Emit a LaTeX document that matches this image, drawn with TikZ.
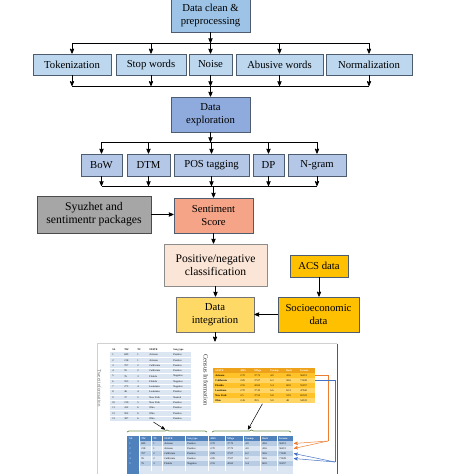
\documentclass[tikz,border=0pt]{standalone}
\usepackage{fontspec}
\setmainfont{Liberation Serif}
\usetikzlibrary{arrows,positioning,decorations.pathreplacing}

\definecolor{cleanblue}{HTML}{9DC3E6}
\definecolor{prepblue}{HTML}{BDD7EE}
\definecolor{explblue}{HTML}{8FAADC}
\definecolor{featblue}{HTML}{B4C7E7}
\definecolor{syugray}{HTML}{A6A6A6}
\definecolor{salmon}{HTML}{F5A487}
\definecolor{peach}{HTML}{FBE5D6}
\definecolor{acsgold}{HTML}{FFC000}
\definecolor{integgold}{HTML}{FFD966}
\definecolor{boxline}{HTML}{4E5C70}
\definecolor{tabblue}{HTML}{DCE6F2}
\definecolor{hdrblue}{HTML}{4F81BD}
\definecolor{rowblue}{HTML}{B8CCE4}
\definecolor{orhead}{HTML}{EDA21A}
\definecolor{orrow}{HTML}{FFC329}
\definecolor{orlight}{HTML}{FFD666}
\definecolor{bracegreen}{HTML}{6E9150}
\definecolor{linkorange}{HTML}{ED7D31}
\definecolor{linkblue}{HTML}{4472C4}

\begin{document}
\begin{tikzpicture}[x=1pt,y=-1pt,>=stealth',line width=0.8pt]
            \tikzstyle{box}=[rectangle,draw=boxline,inner sep=0pt,align=center,font=\fontsize{10.7}{13}\selectfont]
            \tikzstyle{prep}=[box,fill=prepblue,minimum height=21pt]
            \tikzstyle{feat}=[box,fill=featblue,minimum height=22pt]
            \tikzstyle{cell}=[inner sep=0pt,anchor=west,font=\fontsize{2.6}{3}\selectfont]
            \tikzstyle{hcell}=[cell,font=\fontsize{2.6}{3}\selectfont\bfseries]
            \tikzstyle{thin}=[line width=0.5pt]

            \useasboundingbox (0,0) rectangle (474,474);

            \node [box,fill=cleanblue,minimum width=79pt,minimum height=33pt] (clean) at (210.5,15.5) {Data clean \&\\preprocessing};

            \node [prep,minimum width=78pt] (tok) at (72,64.5) {Tokenization};
            \node [prep,minimum width=70pt] (stopw) at (151,64.5) {Stop words};
            \node [prep,minimum width=43pt] (noise) at (210.5,64.5) {Noise};
            \node [prep,minimum width=87pt] (abuse) at (279.5,64.5) {Abusive words};
            \node [prep,minimum width=86pt] (norm) at (369,64.5) {Normalization};

            \coordinate (busa) at (210.5,43);
            \coordinate (busb) at (210.5,86);
            \draw [->] (clean) -- (busa);
            \draw (tok |- busa) -- (norm |- busa);
            \foreach \n in {tok,stopw,noise,abuse,norm}
                \draw [->] (\n |- busa) -- (\n);
            \foreach \n in {tok,stopw,noise,abuse,norm}
                \draw [->] (\n) -- (\n |- busb);
            \draw (tok |- busb) -- (norm |- busb);

            \node [box,fill=explblue,minimum width=79pt,minimum height=35pt] (explore) at (210.5,114.5) {Data\\exploration};
            \draw [->] (busb) -- (explore);

            \node [feat,minimum width=41pt] (bow) at (101.5,165) {BoW};
            \node [feat,minimum width=43pt] (dtm) at (148.5,165) {DTM};
            \node [feat,minimum width=75pt] (pos) at (211.5,165) {POS tagging};
            \node [feat,minimum width=31pt] (dp) at (268.5,165) {DP};
            \node [feat,minimum width=58pt] (ngram) at (317,165) {N-gram};

            \coordinate (busc) at (210.5,142);
            \coordinate (busd) at (213.5,186);
            \draw [->] (explore) -- (busc);
            \draw (bow |- busc) -- (ngram |- busc);
            \foreach \n in {bow,dtm,pos,dp,ngram}
                \draw [->] (\n |- busc) -- (\n);
            \foreach \n in {bow,dtm,pos,dp,ngram}
                \draw [->] (\n) -- (\n |- busd);
            \draw (bow |- busd) -- (ngram |- busd);

            \node [box,fill=syugray,draw=black!70,minimum width=114pt,minimum height=37pt,font=\fontsize{11.7}{13.3}\selectfont] (syu) at (94,214.5) {Syuzhet and\\sentimentr packages};
            \node [box,fill=salmon,minimum width=79pt,minimum height=35pt] (senti) at (213.5,215.5) {Sentiment\\Score};
            \draw [->] (busd) -- (senti);
            \draw [->] (syu.east) -- (syu.east -| senti.west);

            \node [box,fill=peach,draw=black!45,minimum width=103pt,minimum height=42pt,font=\fontsize{11.6}{13}\selectfont] (posneg) at (215.5,265) {Positive/negative\\classification};
            \draw [->] (senti.south) -- (senti.south |- posneg.north);

            \node [box,fill=acsgold,minimum width=58pt,minimum height=22pt] (acs) at (319,266) {ACS data};
            \node [box,fill=acsgold,minimum width=81pt,minimum height=35pt] (socio) at (318.5,314.5) {Socioeconomic\\data};
            \node [box,fill=integgold,draw=black!55,minimum width=78pt,minimum height=35pt] (integ) at (215,314.5) {Data\\integration};
            \draw [->] (posneg.south) -- (posneg.south |- integ.north);
            \draw [->] (acs) -- (acs |- socio.north);
            \draw [->] (socio) -- (integ);

            \coordinate (inset) at (215,341.5);
            \draw [->] (integ) -- (inset);

            % inset: tweet table, census table and merged table
            \draw [thin,black!18] (97,474) -- (97,343.5) -- (337,343.5);
            \draw [black!65] (337,343.5) -- (337,474);
            \node [rotate=-90,font=\fontsize{5}{6}\selectfont,text=black!55] (tweetlab) at (99.5,388) {Tweet information};
            \node [rotate=-90,font=\fontsize{6.5}{7}\selectfont,text=black!80] (censuslab) at (206,380) {Census Information};

            \node [inner sep=0pt,minimum width=81pt,minimum height=74.2pt,anchor=north west] (tweettab) at (110,347) {};
            \fill [tabblue] (110,352.3) rectangle (191,421.2);
            \foreach \i in {1,...,12}
                \draw [white,line width=0.4pt] (110,352.3+5.3*\i) -- (191,352.3+5.3*\i);
            \node [hcell] (lt-0-1) at (112,349.65) {SL};
            \node [hcell] (lt-0-2) at (124,349.65) {TW};
            \node [hcell] (lt-0-3) at (137,349.65) {TC};
            \node [hcell] (lt-0-4) at (149,349.65) {STATE};
            \node [hcell] (lt-0-5) at (173,349.65) {Sen\_type};
            \foreach \sl/\tw/\tc/\st/\se [count=\i] in {1/849/1/Arizona/Positive,2/218/1/Arizona/Positive,3/707/2/California/Positive,4/95/2/California/Positive,5/76/3/Florida/Negative,6/593/3/Florida/Negative,7/273/4/Louisiana/Negative,8/46/4/Louisiana/Positive,9/37/5/New York/Neutral,10/210/5/New York/Positive,11/412/6/Ohio/Positive,12/502/6/Ohio/Positive,13/387/6/Ohio/Positive}{
                \node [cell] (lt-\i-1) at (112,349.65+5.3*\i) {\sl};
                \node [cell] (lt-\i-2) at (124,349.65+5.3*\i) {\tw};
                \node [cell] (lt-\i-3) at (137,349.65+5.3*\i) {\tc};
                \node [cell] (lt-\i-4) at (149,349.65+5.3*\i) {\st};
                \node [cell] (lt-\i-5) at (173,349.65+5.3*\i) {\se};
            }

            \node [inner sep=0pt,minimum width=102pt,minimum height=35pt,anchor=north west] (censtab) at (213,368) {};
            \fill [orhead] (213,368) rectangle (315,373);
            \fill [orrow] (213,373) rectangle (315,403);
            \foreach \i in {2,4,6}
                \fill [orlight] (213,368+5*\i) rectangle (315,373+5*\i);
            \foreach \h/\x [count=\j] in {STATE/215,AHS/240,MAge/254,Unemp/270,Bach/286,Income/300}
                \node [hcell,text=white] (ct-0-\j) at (\x,370.5) {\h};
            \foreach \st/\a/\b/\c/\d/\e [count=\i] in {Arizona/2.70/37.75/4.0/43.6/56213,California/2.85/37.07/6.2/58.6/71228,Florida/2.55/42.65/5.4/60.0/55257,Louisiana/2.70/37.39/6.6/62.3/47942,New York/2.5/37.52/5.8/53.9/65323,Ohio/2.45/39.5/5.0/48/54533}{
                \node [hcell] (ct-\i-1) at (215,370.5+5*\i) {\st};
                \node [cell] (ct-\i-2) at (240,370.5+5*\i) {\a};
                \node [cell] (ct-\i-3) at (254,370.5+5*\i) {\b};
                \node [cell] (ct-\i-4) at (270,370.5+5*\i) {\c};
                \node [cell] (ct-\i-5) at (286,370.5+5*\i) {\d};
                \node [cell] (ct-\i-6) at (300,370.5+5*\i) {\e};
            }

            \coordinate (lbrace) at (165,429.5);
            \coordinate (rbrace) at (248,429.5);
            \draw [line width=0.7pt,bracegreen,decorate,decoration={brace,amplitude=2pt}] (127,432) -- (207,432);
            \draw [line width=0.7pt,bracegreen,decorate,decoration={brace,amplitude=2pt}] (212,432) -- (291,432);
            \draw [thin,->] ([xshift=2.5pt]tweettab.south) -- (lbrace);
            \draw [thin,->] ([xshift=-2pt]censtab.south) -- (rbrace);

            \node [inner sep=0pt,minimum width=166pt,minimum height=38pt,anchor=north west] (mergetab) at (127,436) {};
            \fill [tabblue] (127,441) rectangle (293,474);
            \foreach \i in {1,3,5}
                \fill [rowblue] (127,436+5*\i) rectangle (293,441+5*\i);
            \fill [hdrblue] (127,436) rectangle (293,441);
            \fill [hdrblue] (127,441) rectangle (139,474);
            \foreach \x in {139,151,162,185,208,225,243,260,277}
                \draw [white,line width=0.4pt] (\x,436) -- (\x,471);
            \foreach \h/\x [count=\j] in {SL/129,TW/141,TC/153,STATE/164,Sen\_type/187,AHS/210,MAge/227,Unemp/245,Bach/262,Income/279}
                \node [hcell,text=white] (mt-0-\j) at (\x,438.5) {\h};
            \foreach \sl/\tw/\tc/\st/\se/\a/\b/\c/\d/\e [count=\i] in {1/849/1/Arizona/Positive/2.70/37.75/4.0/43.6/56213,2/218/1/Arizona/Positive/2.70/37.75/4.0/43.6/56213,3/707/2/California/Positive/2.85/37.07/6.2/58.6/71228,4/95/2/California/Positive/2.85/37.07/6.2/58.6/71228,5/76/3/Florida/Negative/2.55/42.65/5.4/60.0/55257}{
                \node [cell,text=white] (mt-\i-1) at (129,438.5+5*\i) {\sl};
                \node [cell] (mt-\i-2) at (141,438.5+5*\i) {\tw};
                \node [cell] (mt-\i-3) at (153,438.5+5*\i) {\tc};
                \node [cell] (mt-\i-4) at (164,438.5+5*\i) {\st};
                \node [cell] (mt-\i-5) at (187,438.5+5*\i) {\se};
                \node [cell] (mt-\i-6) at (210,438.5+5*\i) {\a};
                \node [cell] (mt-\i-7) at (227,438.5+5*\i) {\b};
                \node [cell] (mt-\i-8) at (245,438.5+5*\i) {\c};
                \node [cell] (mt-\i-9) at (262,438.5+5*\i) {\d};
                \node [cell] (mt-\i-10) at (279,438.5+5*\i) {\e};
            }

            \coordinate (ofrom) at (315,375.5);
            \coordinate (oturn) at (328,441);
            \coordinate (bfrom) at (315,380.5);
            \coordinate (bturn) at (335,462);
            \draw [thin,linkorange] (ofrom) -| (oturn);
            \foreach \r in {1,2}
                \draw [thin,linkorange,->] (oturn) -- (mergetab.north east |- mt-\r-10);
            \draw [thin,linkblue] (bfrom) -| (bturn);
            \foreach \r in {3,4}
                \draw [thin,linkblue,->] (bturn) -- (mergetab.north east |- mt-\r-10);
\end{tikzpicture}
\end{document}
